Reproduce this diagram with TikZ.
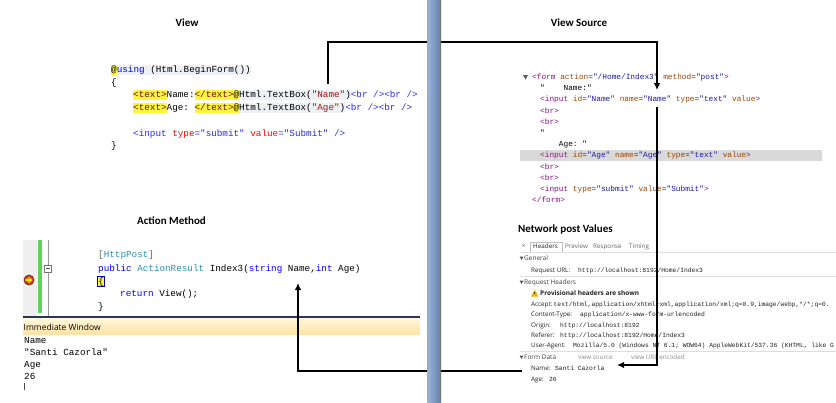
\documentclass[tikz,border=0pt]{standalone}
\usepackage{fontspec}
\setmonofont{Liberation Mono}
\newfontfamily\titlefont{Carlito}
\newfontfamily\uifont{Open Sans}
\usetikzlibrary{arrows.meta}
\definecolor{vsblue}{HTML}{2B2BF0}
\definecolor{vskey}{HTML}{0000FF}
\definecolor{vsteal}{HTML}{2B91AF}
\definecolor{vsred}{HTML}{A31515}
\definecolor{attrred}{HTML}{FF0000}
\definecolor{hly}{HTML}{FFF53D}
\definecolor{hlg}{HTML}{EDF0F5}
\definecolor{tagmar}{HTML}{6B1010}
\definecolor{dtp}{HTML}{881280}
\definecolor{dta}{HTML}{994500}
\definecolor{dtv}{HTML}{1A1AA6}
\definecolor{uigray}{HTML}{222222}
\definecolor{sepgray}{HTML}{DDDDDD}
\definecolor{bandgray}{HTML}{D9D9D9}
\definecolor{navy}{HTML}{293955}
\definecolor{gutter}{HTML}{EFEFEF}
\definecolor{vsgreen}{HTML}{60D45A}
\definecolor{divL}{HTML}{9DB5D8}
\definecolor{divR}{HTML}{5F7FAE}
\definecolor{warnc}{HTML}{F2B300}
\definecolor{bandTop}{HTML}{FFF6DC}
\definecolor{bandBot}{HTML}{FDE3A4}
\definecolor{bpred}{HTML}{C8452C}
\definecolor{bpedge}{HTML}{7A2A1A}
\newcommand\vstrut{\rule[-2.2pt]{0pt}{9.8pt}}
\newcommand\hly[1]{{\setlength\fboxsep{0pt}\colorbox{hly}{\vstrut#1}}}
\newcommand\hlg[1]{{\setlength\fboxsep{0pt}\colorbox{hlg}{\vstrut#1}}}
\newcommand\tg[1]{\textcolor{dtp}{#1}}
\newcommand\at[1]{\textcolor{dta}{#1}}
\newcommand\va[1]{\textcolor{dtv}{#1}}
\begin{document}
\begin{tikzpicture}[x=1pt,y=-1pt,
  title/.style={font=\titlefont\bfseries\fontsize{11}{13}\selectfont, inner sep=0pt},
  code/.style={font=\ttfamily\fontsize{9.3}{11}\selectfont, anchor=base west, inner sep=0pt},
  src/.style={font=\ttfamily\fontsize{7.8}{9}\selectfont, anchor=base west, inner sep=0pt},
  ui/.style={font=\uifont\fontsize{6.3}{8}\selectfont, anchor=base west, inner sep=0pt, text=uigray},
  uisec/.style={font=\uifont\fontsize{6.5}{8}\selectfont, anchor=base west, inner sep=0pt, text=black!75},
  val/.style={font=\ttfamily\fontsize{6.3}{8}\selectfont, anchor=base west, inner sep=0pt, text=uigray},
  sep/.style={draw=sepgray, line width=0.8pt},
  conn/.style={draw=black, line width=1.2pt},
  tip/.style={-{Latex[length=7pt,width=6.5pt]}},
  tri/.style={fill=black!65}]
\fill[white] (0,0) rectangle (836,402);
\useasboundingbox (0,0) rectangle (836,402);
\begin{scope}
\clip (0,0) rectangle (836,402);

% ---------- titles ----------
\node[title, anchor=base] (tView) at (187,26) {View};
\node[title, anchor=base] (tSrc) at (579,26) {View Source};
\node[title, anchor=base west] (tAct) at (137,224) {Action Method};
\node[title, anchor=base west] (tNet) at (518,232) {Network post Values};

% ---------- View (razor) ----------
\node[code] (v1) at (111,72.5) {\hly{@}\hlg{\textcolor{vskey}{using} (Html.BeginForm())}};
\node[code] (v2) at (111,85.2) {\{};
\node[code] (v3) at (133,97.9) {\hly{\textcolor{tagmar}{<text>}}Name:\hly{\textcolor{tagmar}{</text>}}\hly{@}\hlg{Html.TextBox(\textcolor{vsred}{"Name"})}\textcolor{vsblue}{<br /><br />}};
\node[code] (v4) at (133,110.6) {\hly{\textcolor{tagmar}{<text>}}Age: \hly{\textcolor{tagmar}{</text>}}\hly{@}\hlg{Html.TextBox(\textcolor{vsred}{"Age"})}\textcolor{vsblue}{<br /><br />}};
\node[code] (v5) at (133,136) {\textcolor{vsblue}{<input} \textcolor{attrred}{type}\textcolor{vsblue}{="submit"} \textcolor{attrred}{value}\textcolor{vsblue}{="Submit" />}};
\node[code] (v6) at (111,148.7) {\}};

% ---------- View Source ----------
\fill[bandgray] (520,150) rectangle (822,161);
\fill[tri] (523,75) -- (528,75) -- (525.5,79.5) -- cycle;
\node[src] (s1) at (532,79.5) {\tg{<form} \at{action}\va{="/Home/Index3"} \at{method}\va{="post"}\tg{>}};
\node[src] (s2) at (540,90.7) {"\phantom{0000}Name:"};
\node[src] (s3) at (540,101.9) {\tg{<input} \at{id}\va{="Name"} \at{name}\va{="Name"} \at{type}\va{="text"} \at{value}\tg{>}};
\node[src] (s4) at (540,113.1) {\tg{<br>}};
\node[src] (s5) at (540,124.3) {\tg{<br>}};
\node[src] (s6) at (540,135.5) {"};
\node[src] (s7) at (540,146.7) {\phantom{0000}Age: "};
\node[src] (s8) at (540,157.9) {\tg{<input} \at{id}\va{="Age"} \at{name}\va{="Age"} \at{type}\va{="text"} \at{value}\tg{>}};
\node[src] (s9) at (540,169.1) {\tg{<br>}};
\node[src] (s10) at (540,180.3) {\tg{<br>}};
\node[src] (s11) at (540,191.5) {\tg{<input} \at{type}\va{="submit"} \at{value}\va{="Submit"}\tg{>}};
\node[src] (s12) at (532,202.7) {\tg{</form>}};

% ---------- Action method editor ----------
\fill[gutter] (23,240) rectangle (37,316);
\fill[vsgreen] (37.5,240) rectangle (41.5,313);
\draw[black!40, line width=0.6pt] (48,240) -- (48,316);
\draw[black!55, fill=white, line width=0.5pt] (44.5,265) rectangle (51.5,272);
\draw[black!70, line width=0.6pt] (46,268.5) -- (50,268.5);
\draw[bpedge, fill=bpred, line width=0.8pt] (29,280) circle (5);
\fill[yellow!85!orange] (25.5,278.8) -- (28.6,278.8) -- (28.6,276.8) -- (32.4,280) -- (28.6,283.2) -- (28.6,281.2) -- (25.5,281.2) -- cycle;
\node[code] (a1) at (98,257.5) {\textcolor{black!60}{[}\textcolor{vsteal}{HttpPost}\textcolor{black!60}{]}};
\node[code] (a2) at (98,271) {\textcolor{vskey}{public} \textcolor{vsteal}{ActionResult} Index3(\textcolor{vskey}{string} Name,\textcolor{vskey}{int} Age)};
\node[code, fill=hly, draw=blue!75!black, line width=0.7pt, inner sep=0.7pt] (a3) at (97.3,284) {\{};
\node[code] (a4) at (120,296.5) {\textcolor{vskey}{return} View();};
\node[code] (a5) at (98,309.5) {\}};

% ---------- Immediate window ----------
\fill[navy] (23,316.3) rectangle (420,318.3);
\shade[top color=bandTop, bottom color=bandBot] (23,318.3) rectangle (420,334);
\node[font=\uifont\fontsize{8.5}{10}\selectfont, anchor=base west, inner sep=0pt] (imw) at (23.5,330) {Immediate Window};
\node[code] (i1) at (24,343) {Name};
\node[code] (i2) at (24,355) {"Santi Cazorla"};
\node[code] (i3) at (24,367) {Age};
\node[code] (i4) at (24,379) {26};
\draw[black!70, line width=0.6pt] (24,383) -- (24,389.5);

% ---------- Network panel ----------
\node[ui, text=black!50, font=\uifont\fontsize{7.5}{8}\selectfont] (nx) at (521.5,248.8) {×};
\draw[black!25, fill=white, line width=0.6pt] (530.5,242) rectangle (562,252.5);
\node[ui] (nh) at (533,248.5) {Headers};
\node[ui, text=black!60] (np) at (565,248.5) {Preview};
\node[ui, text=black!60] (nr) at (593,248.5) {Response};
\node[ui, text=black!60] (nt) at (629,248.5) {Timing};
\draw[sep] (520,252.5) -- (836,252.5);
\fill[tri] (519.5,256.5) -- (523.5,256.5) -- (521.5,260) -- cycle;
\node[uisec] (ng) at (524,260.5) {General};
\node[ui] (k1) at (531,272.5) {Request URL:};
\node[val] (w1) at (578,272.5) {http://localhost:8192/Home/Index3};
\draw[sep] (520,276.5) -- (836,276.5);
\fill[tri] (519.5,280.5) -- (523.5,280.5) -- (521.5,284) -- cycle;
\node[uisec] (nrh) at (524,284.5) {Request Headers};
\fill[warnc] (531,296.5) -- (534.7,289.5) -- (538.4,296.5) -- cycle;
\draw[black!80, line width=0.6pt] (534.7,291.8) -- (534.7,294.2);
\node[ui, font=\uifont\bfseries\fontsize{6.5}{8}\selectfont] (kw) at (540,295.5) {Provisional headers are shown};
\node[ui] (k2) at (531,306.5) {Accept:};
\node[val] (w2) at (553.5,306.5) {text/html,application/xhtml+xml,application/xml;q=0.9,image/webp,*/*;q=0.};
\node[ui] (k3) at (531,316.5) {Content-Type:};
\node[val] (w3) at (580,316.5) {application/x-www-form-urlencoded};
\node[ui] (k4) at (531,327.5) {Origin:};
\node[val] (w4) at (560,327.5) {http://localhost:8192};
\node[ui] (k5) at (531,337.5) {Referer:};
\node[val] (w5) at (560,337.5) {http://localhost:8192/Home/Index3};
\node[ui] (k6) at (531,347.5) {User-Agent:};
\node[val] (w6) at (573,347.5) {Mozilla/5.0 (Windows NT 6.1; WOW64) AppleWebKit/537.36 (KHTML, like G};
\draw[sep] (520,351.5) -- (836,351.5);
\fill[tri] (519.5,355.5) -- (523.5,355.5) -- (521.5,359) -- cycle;
\node[uisec] (nfd) at (524,359.5) {Form Data};
\node[ui, text=black!45] (nvs) at (578,359.5) {view source};
\node[ui, text=black!45] (nvu) at (631,359.5) {view URL encoded};
\node[ui] (k7) at (531,370.5) {Name:};
\node[val] (w7) at (555,370.5) {Santi Cazorla};
\node[ui] (k8) at (531,381.5) {Age:};
\node[val] (w8) at (549,381.5) {26};

% ---------- connectors ----------
\coordinate (viewName) at (328,84);
\coordinate (c1bend) at (657,42);
\coordinate (srcNameIn) at (657,90);
\coordinate (srcNameOut) at (657,107);
\coordinate (c2bend) at (657,365);
\coordinate (formName) at (617,365);
\coordinate (formNameOut) at (522,371);
\coordinate (c3bend) at (298,371);
\coordinate (actName) at (298,283);
\draw[conn, tip] (viewName) |- (c1bend) -- (srcNameIn);
\draw[conn, tip] (srcNameOut) -- (c2bend) -- (formName);
\draw[conn, tip] (formNameOut) -- (c3bend) -- (actName);

% ---------- divider ----------
\shade[left color=divL, right color=divR] (427,0) rectangle (441,402);
\draw[black!55, line width=0.6pt] (440.7,0) -- (440.7,402);
\draw[black!35, line width=0.4pt] (427.2,0) -- (427.2,402);
\end{scope}
\end{tikzpicture}
\end{document}
